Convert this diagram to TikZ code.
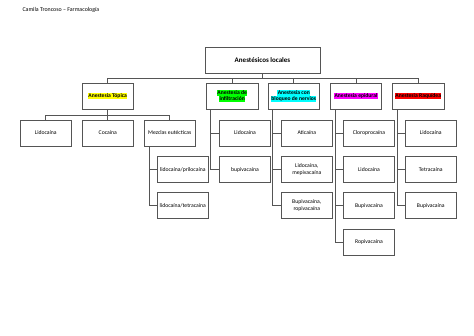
\documentclass[tikz,border=0pt]{standalone}
\usepackage{fontspec}
\setmainfont{Carlito}
\definecolor{linegray}{RGB}{85,85,85}
\definecolor{hlyellow}{RGB}{255,255,0}
\definecolor{hlgreen}{RGB}{0,255,0}
\definecolor{hlcyan}{RGB}{0,255,255}
\definecolor{hlmagenta}{RGB}{255,0,255}
\definecolor{hlred}{RGB}{255,0,0}
\newcommand{\hlt}[2]{{\setlength{\fboxsep}{0.3pt}\colorbox{#1}{\strut #2}}}
\tikzset{
  box/.style={draw=linegray, line width=0.75pt, fill=white, minimum width=51.5pt, minimum height=26pt, inner sep=0.5pt, align=center, font=\fontsize{5.7}{6.4}\selectfont},
  catbox/.style={box, font=\bfseries\fontsize{5.6}{5.8}\selectfont},
  rootbox/.style={box, minimum width=115pt, font=\bfseries\fontsize{7}{8}\selectfont},
  conn/.style={draw=linegray, line width=0.75pt}
}
\begin{document}
\begin{tikzpicture}[x=1pt,y=-1pt]
\useasboundingbox (0,0) rectangle (474,335);
\node[anchor=west, font=\fontsize{5.9}{6.5}\selectfont] (hdr) at (19,10) {Camila Troncoso – Farmacología};

\node[rootbox] (root) at (262.5,60) {Anestésicos locales};

\node[catbox] (topica) at (107.7,96) {\hlt{hlyellow}{Anestesia Tópica}};
\node[catbox] (infil) at (232.2,96) {\hlt{hlgreen}{Anestesia de}\\[-1.6pt]\hlt{hlgreen}{infiltración}};
\node[catbox] (bloq) at (293.8,96) {\hlt{hlcyan}{Anestesia con}\\[-1.6pt]\hlt{hlcyan}{bloqueo de nervios}};
\node[catbox] (epi) at (356,96) {\hlt{hlmagenta}{Anestesia epidural}};
\node[catbox] (raq) at (418.2,96) {\hlt{hlred}{Anestesia Raquídea}};

\coordinate (bar) at (262.5,78);
\draw[conn] (root.south) -- (root.south |- bar);
\draw[conn] (topica.north) -- (topica.north |- bar) -- (raq.north |- bar) -- (raq.north);
\draw[conn] (infil.north) -- (infil.north |- bar);
\draw[conn] (bloq.north) -- (bloq.north |- bar);
\draw[conn] (epi.north) -- (epi.north |- bar);

% Topica children
\node[box] (tlido) at (45.8,133) {Lidocaína};
\node[box] (tcoca) at (107.8,133) {Cocaína};
\node[box] (tmez) at (169.8,133) {Mezclas eutécticas};
\coordinate (bar2) at (107.7,115);
\draw[conn] (topica.south) -- (topica.south |- bar2);
\draw[conn] (tlido.north) -- (tlido.north |- bar2) -- (tmez.north |- bar2) -- (tmez.north);
\draw[conn] (tcoca.north) -- (tcoca.north |- bar2);

\node[box] (pril) at (182.8,169.5) {lidocaína/prilocaína};
\node[box] (tetra) at (182.8,205.5) {lidocaína/tetracaína};
\draw[conn] ([xshift=6pt]tmez.south west) |- (pril.west);
\draw[conn] ([xshift=6pt]tmez.south west) |- (tetra.west);

% Infiltracion
\node[box] (ilido) at (245,133) {Lidocaína};
\node[box] (ibupi) at (245,169.5) {bupivacaína};
\draw[conn] ([xshift=4.7pt]infil.south west) |- (ilido.west);
\draw[conn] ([xshift=4.7pt]infil.south west) |- (ibupi.west);

% Bloqueo
\node[box] (bati) at (306.8,133) {Aticaína};
\node[box] (blido) at (306.8,169.5) {Lidocaína,\\mepivacaína};
\node[box] (bbupi) at (306.8,205.5) {Bupivacaína,\\ropivacaína};
\draw[conn] ([xshift=5pt]bloq.south west) |- (bati.west);
\draw[conn] ([xshift=5pt]bloq.south west) |- (blido.west);
\draw[conn] ([xshift=5pt]bloq.south west) |- (bbupi.west);

% Epidural
\node[box] (eclo) at (369,133) {Cloroprocaína};
\node[box] (elido) at (369,169.5) {Lidocaína};
\node[box] (ebupi) at (369,205.5) {Bupivacaína};
\node[box] (eropi) at (369,242) {Ropivacaína};
\draw[conn] ([xshift=5.5pt]epi.south west) |- (eclo.west);
\draw[conn] ([xshift=5.5pt]epi.south west) |- (elido.west);
\draw[conn] ([xshift=5.5pt]epi.south west) |- (ebupi.west);
\draw[conn] ([xshift=5.5pt]epi.south west) |- (eropi.west);

% Raquidea
\node[box] (rlido) at (430.8,133) {Lidocaína};
\node[box] (rtetra) at (430.8,169.5) {Tetracaína};
\node[box] (rbupi) at (430.8,205.5) {Bupivacaína};
\draw[conn] ([xshift=5.5pt]raq.south west) |- (rlido.west);
\draw[conn] ([xshift=5.5pt]raq.south west) |- (rtetra.west);
\draw[conn] ([xshift=5.5pt]raq.south west) |- (rbupi.west);
\end{tikzpicture}
\end{document}
